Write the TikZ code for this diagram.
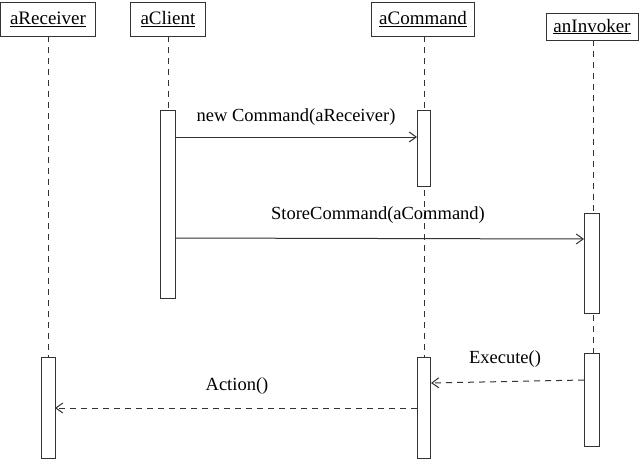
\documentclass[tikz,border=0pt]{standalone}
\usepackage{fontspec}
\setmainfont{Liberation Serif}
\usetikzlibrary{arrows.meta}
\begin{document}
\begin{tikzpicture}[x=1pt,y=-1pt,line width=1pt,
  obj/.style={draw,draw=black!80,fill=white,inner sep=0pt,font=\fontsize{19}{22}\selectfont},
  life/.style={dashed,dash pattern=on 6pt off 5pt,black!80},
  act/.style={draw=black!80,fill=white},
  msg/.style={-{Straight Barb[length=7pt,width=10pt]},black!80},
  lbl/.style={font=\fontsize{18.5}{22}\selectfont,inner sep=1pt}]
\useasboundingbox (0,0) rectangle (640,458);
% lifelines
\coordinate (r0) at (48,36); \coordinate (r1) at (48,458);
\coordinate (c0) at (168,36); \coordinate (c1) at (168,298);
\coordinate (m0) at (424,36); \coordinate (m1) at (424,458);
\coordinate (i0) at (593,40); \coordinate (i1) at (593,446);
\draw[life] (r0) -- (r1);
\draw[life] (c0) -- (c1);
\draw[life] (m0) -- (m1);
\draw[life] (i0) -- (i1);
% object boxes
\node[obj,minimum width=95pt,minimum height=34pt] (aR) at (48,19) {\underline{aReceiver}};
\node[obj,minimum width=75pt,minimum height=34pt] (aC) at (168,19) {\underline{aClient}};
\node[obj,minimum width=103pt,minimum height=34pt] (aM) at (423,19) {\underline{aCommand}};
\node[obj,minimum width=92pt,minimum height=27pt] (aI) at (592,26.5) {\underline{anInvoker}};
% activations
\path[act] (160,110) rectangle (175,298);
\path[act] (417,110) rectangle (430,186);
\path[act] (584,213) rectangle (599,313);
\path[act] (41,357) rectangle (55,458);
\path[act] (417,357) rectangle (430,458);
\path[act] (584,353) rectangle (599,446);
\coordinate (a1s) at (175,137); \coordinate (a1e) at (417,137);
\coordinate (a2s) at (175,238); \coordinate (a2e) at (584,239);
\coordinate (a3s) at (584,380); \coordinate (a3e) at (431,383);
\coordinate (a4s) at (417,408); \coordinate (a4e) at (55,408);
\draw[msg] (a1s) -- (a1e);
\draw[msg] (a2s) -- (a2e);
\draw[msg,life] (a3s) -- (a3e);
\draw[msg,life] (a4s) -- (a4e);
\node[lbl] (l1) at (296,117) {new Command(aReceiver)};
\node[lbl] (l2) at (378,215) {StoreCommand(aCommand)};
\node[lbl] (l3) at (505,359) {Execute()};
\node[lbl] (l4) at (237,386) {Action()};
\end{tikzpicture}
\end{document}
